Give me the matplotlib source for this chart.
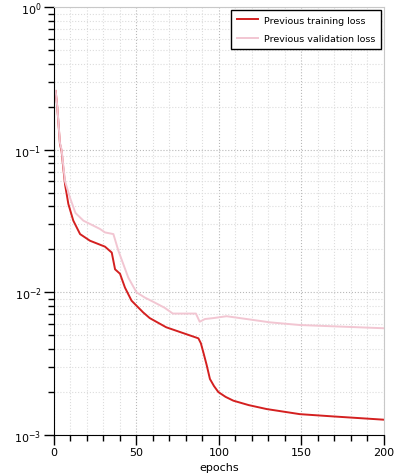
import matplotlib
matplotlib.use("Agg")
import matplotlib.pyplot as plt
from matplotlib.ticker import LogLocator, MultipleLocator, NullFormatter

# values
train_epochs = [1, 2, 3.6, 4.6, 5.6, 6.7, 8.7, 11.7, 15.8, 21.8, 30.9, 35, 37,
                40, 43, 47, 54, 58, 68, 87.5, 89, 90.5, 92.5, 94.5, 97, 99.6,
                104, 108.7, 118, 128.9, 149, 169, 200]
train_loss = [0.258, 0.198, 0.11, 0.098, 0.075, 0.057, 0.0416, 0.0318, 0.0256,
              0.023, 0.0209, 0.0190, 0.0145, 0.0135, 0.0108, 0.00874, 0.00724,
              0.0066, 0.00569, 0.00476, 0.0044, 0.0038, 0.0031, 0.00247, 0.0022,
              0.0020, 0.00185, 0.00174, 0.00162, 0.00152, 0.0014, 0.00135, 0.00128]

val_epochs = [1, 2, 3.6, 4.6, 5.6, 6.7, 9.7, 13, 17.8, 27.9, 30.9, 36, 39, 45,
              50, 55, 60, 67, 72, 86, 88.3, 91.5, 96.6, 104.6, 118.8, 130.9, 149,
              169, 200]
val_loss = [0.258, 0.20, 0.112, 0.10, 0.078, 0.060, 0.046, 0.036, 0.0318,
            0.0278, 0.0263, 0.0256, 0.0196, 0.0127, 0.0100, 0.0092, 0.0086,
            0.0078, 0.0071, 0.0071, 0.00622, 0.0065, 0.0066, 0.0068, 0.00645,
            0.00616, 0.0059, 0.00578, 0.0056]

plt.rcParams["font.family"] = ["DejaVu Sans"]
plt.rcParams["font.size"] = 7.5

fig = plt.figure(figsize=(4.03, 4.77), dpi=100)
ax = fig.add_axes([54 / 403, 1 - 436 / 477, 330 / 403, 428 / 477])

ax.plot(train_epochs, train_loss, color="#d42020", lw=1.4, label="Previous training loss")
ax.plot(val_epochs, val_loss, color="#f2c6d2", lw=1.4, label="Previous validation loss")

ax.set_yscale("log")
ax.set_xlim(0, 200)
ax.set_ylim(1e-3, 1)
ax.xaxis.set_major_locator(MultipleLocator(50))
ax.xaxis.set_minor_locator(MultipleLocator(10))
ax.yaxis.set_major_locator(LogLocator(base=10, numticks=10))
ax.yaxis.set_minor_locator(LogLocator(base=10, subs=range(2, 10), numticks=10))
ax.yaxis.set_minor_formatter(NullFormatter())

ax.grid(which="major", ls=":", color="#b8b8b8", lw=0.8)
ax.grid(which="minor", ls=":", color="#dcdcdc", lw=0.8)
ax.set_axisbelow(True)

for side in ["top", "right"]:
    ax.spines[side].set_color("#c8c8c8")
ax.tick_params(which="major", length=7, width=1, direction="out", pad=2)
ax.tick_params(which="minor", length=4, width=1, direction="out")
ax.tick_params(axis="both", labelsize=8)

ax.set_xlabel("epochs", fontsize=8, labelpad=3)

leg = ax.legend(loc="upper right", fancybox=False, framealpha=1, edgecolor="black",
                fontsize=6.8, handlelength=2.3, handletextpad=0.6,
                labelspacing=1.0, borderpad=0.6, borderaxespad=0.3)
leg.get_frame().set_linewidth(1.0)

fig.savefig("out.png", dpi=100)
